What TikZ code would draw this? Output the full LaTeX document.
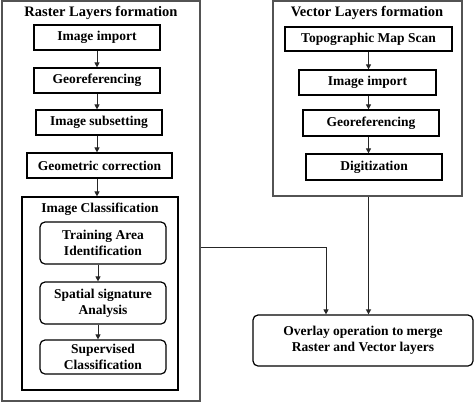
\documentclass[tikz,border=0pt]{standalone}
\usepackage{fontspec}
\setmainfont{Liberation Serif}
\usetikzlibrary{arrows.meta}
\begin{document}
\begin{tikzpicture}[x=1pt, y=-1pt,
        frame/.style = {draw=gray!65!black, line width=1.6pt, inner sep=0pt},
        title/.style = {font=\bfseries\fontsize{14.5}{16}\selectfont},
      stepbox/.style = {draw, line width=1.2pt, inner sep=0pt, align=center,
                        font=\bfseries\fontsize{13.5}{16}\selectfont},
     rstepbox/.style = {stepbox, rounded corners=5pt},
          arr/.style = {draw=gray!30!black, line width=0.9pt,
                        -{Triangle[length=5pt,width=5pt]}},
             font = \bfseries
                                ]
        \useasboundingbox (0,0) rectangle (474,405);
        % raster layers
        \node[frame, minimum width=198pt, minimum height=400pt] (raster) at (101,201) {};
        \node[title] (rastertitle) at (101,13) {Raster Layers formation};
        \node[stepbox, minimum width=126pt, minimum height=25pt] (imgimport) at (97,37.5) {Image import};
        \node[stepbox, minimum width=126pt, minimum height=25pt] (georef) at (97,80.5) {Georeferencing};
        \node[stepbox, minimum width=126pt, minimum height=25pt] (subset) at (99,122.5) {Image subsetting};
        \node[stepbox, minimum width=145pt, minimum height=25pt] (geocorr) at (99.5,165.5) {Geometric correction};
        \node[stepbox, minimum width=156pt, minimum height=193pt] (classbox) at (100,293.5) {};
        \node[title, font=\bfseries\fontsize{13.5}{16}\selectfont] (classtitle) at (100,209) {Image Classification};
        \node[rstepbox, minimum width=126pt, minimum height=42pt] (training) at (103,243) {Training Area\\Identification};
        \node[rstepbox, minimum width=126pt, minimum height=42pt] (spatial) at (103,303) {Spatial signature\\Analysis};
        \node[rstepbox, minimum width=126pt, minimum height=34pt] (supervised) at (103,357) {Supervised\\Classification};

        \draw[arr] (imgimport.south) -- (imgimport.south |- georef.north);
        \draw[arr] (georef.south) -- (georef.south |- subset.north);
        \draw[arr] (georef.south |- subset.south) -- (georef.south |- geocorr.north);
        \draw[arr] (georef.south |- geocorr.south) -- (georef.south |- classbox.north);
        \draw[arr] ([xshift=-5pt]training.south) -- ([xshift=-5pt]training.south |- spatial.north);
        \draw[arr] ([xshift=-5pt]spatial.south) -- ([xshift=-5pt]spatial.south |- supervised.north);

        % vector layers
        \node[frame, minimum width=189pt, minimum height=195pt] (vector) at (367.5,98.5) {};
        \node[title] (vectortitle) at (367,13) {Vector Layers formation};
        \node[stepbox, minimum width=167pt, minimum height=24pt] (topo) at (368.5,39) {Topographic Map Scan};
        \node[stepbox, minimum width=137pt, minimum height=25pt] (vimport) at (367.5,82.5) {Image import};
        \node[stepbox, minimum width=136pt, minimum height=26pt] (vgeoref) at (371,123) {Georeferencing};
        \node[stepbox, minimum width=136pt, minimum height=26pt] (digit) at (374,167) {Digitization};

        \draw[arr] (topo.south) -- (topo.south |- vimport.north);
        \draw[arr] (topo.south |- vimport.south) -- (topo.south |- vgeoref.north);
        \draw[arr] (topo.south |- vgeoref.south) -- (topo.south |- digit.north);

        % overlay
        \node[rstepbox, minimum width=220pt, minimum height=51pt] (overlay) at (363,340.5)
            {Overlay operation to merge\\Raster and Vector layers};
        \coordinate (bend) at (326,247);
        \draw[arr, line width=1.4pt] (topo.south |- vector.south) -- (topo.south |- overlay.north);
        \draw[arr] (raster.east |- bend) -- (bend) -- (bend |- overlay.north);
\end{tikzpicture}
\end{document}
